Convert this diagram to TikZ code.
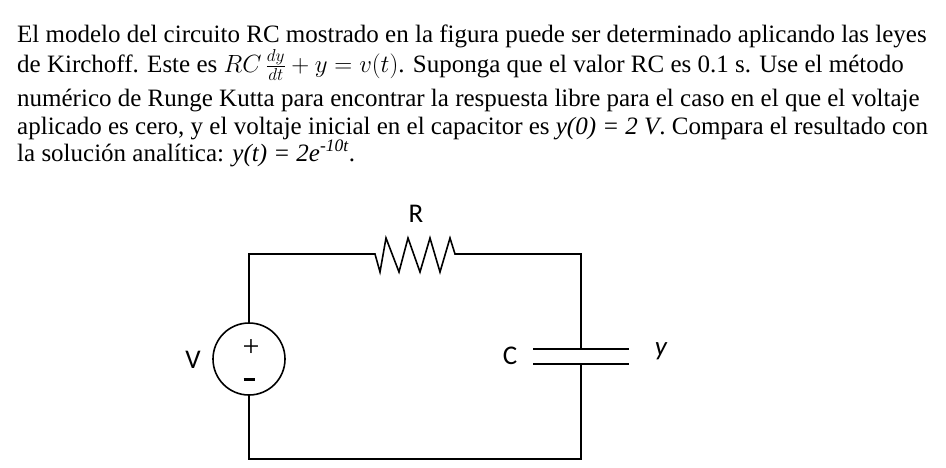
\documentclass[tikz,border=0pt]{standalone}
\usepackage{fontspec}
\setmainfont{Liberation Serif}
\newfontfamily\lab{Carlito}
\begin{document}
\begin{tikzpicture}[x=1pt,y=-1pt,
  txt/.style={anchor=base west,inner sep=0pt,font=\fontsize{25}{29}\selectfont},
  lbl/.style={inner sep=0pt,font=\lab\fontsize{27}{30}\selectfont},
  wire/.style={line width=1.6pt}]
\useasboundingbox (0,0) rectangle (946,467);
\node[txt] (l1) at (17,42) {El modelo del circuito RC mostrado en la figura puede ser determinado aplicando las leyes};
\node[txt] (l2) at (17,72) {de Kirchoff. Este es $RC\,\frac{dy}{dt}+y=v(t)$. Suponga que el valor RC es 0.1 s. Use el método};
\node[txt] (l3) at (17,106) {numérico de Runge Kutta para encontrar la respuesta libre para el caso en el que el voltaje};
\node[txt] (l4) at (17,134) {aplicado es cero, y el voltaje inicial en el capacitor es \textit{y(0) = 2 V}. Compara el resultado con};
\node[txt] (l5) at (17,161) {la solución analítica: \textit{y(t) = 2e\textsuperscript{-10t}}.};
% circuit
\coordinate (tl) at (249,254); \coordinate (tr) at (581,254);
\coordinate (bl) at (249,459); \coordinate (br) at (581,459);
\node[circle,draw,line width=1.6pt,minimum size=72pt,inner sep=0pt] (src) at (249,359) {};
\node[inner sep=0pt,font=\fontsize{30}{30}\selectfont] at (251,348) {+};
\node[inner sep=0pt] at (249,379) {\rule{11pt}{3pt}};
\draw[wire] (src.north) -- (tl) -- (375,254) -- (380,272) -- (386,238) -- (399,272) -- (408,238) -- (420,272) -- (430,238) -- (440,272) -- (450,238) -- (455,254) -- (tr) -- (581,349);
\coordinate (c2) at (581,364);
\draw[wire] (533,349) -- (629,349);
\draw[wire] (533,364) -- (629,364);
\draw[wire] (c2) -- (br) -- (bl) -- (src.south);
\node[lbl] (R) at (416,214) {R};
\node[lbl] (V) at (193,360) {V};
\node[lbl] (C) at (510,356) {C};
\node[lbl] (Y) at (661,351) {\itshape y};
\end{tikzpicture}
\end{document}
